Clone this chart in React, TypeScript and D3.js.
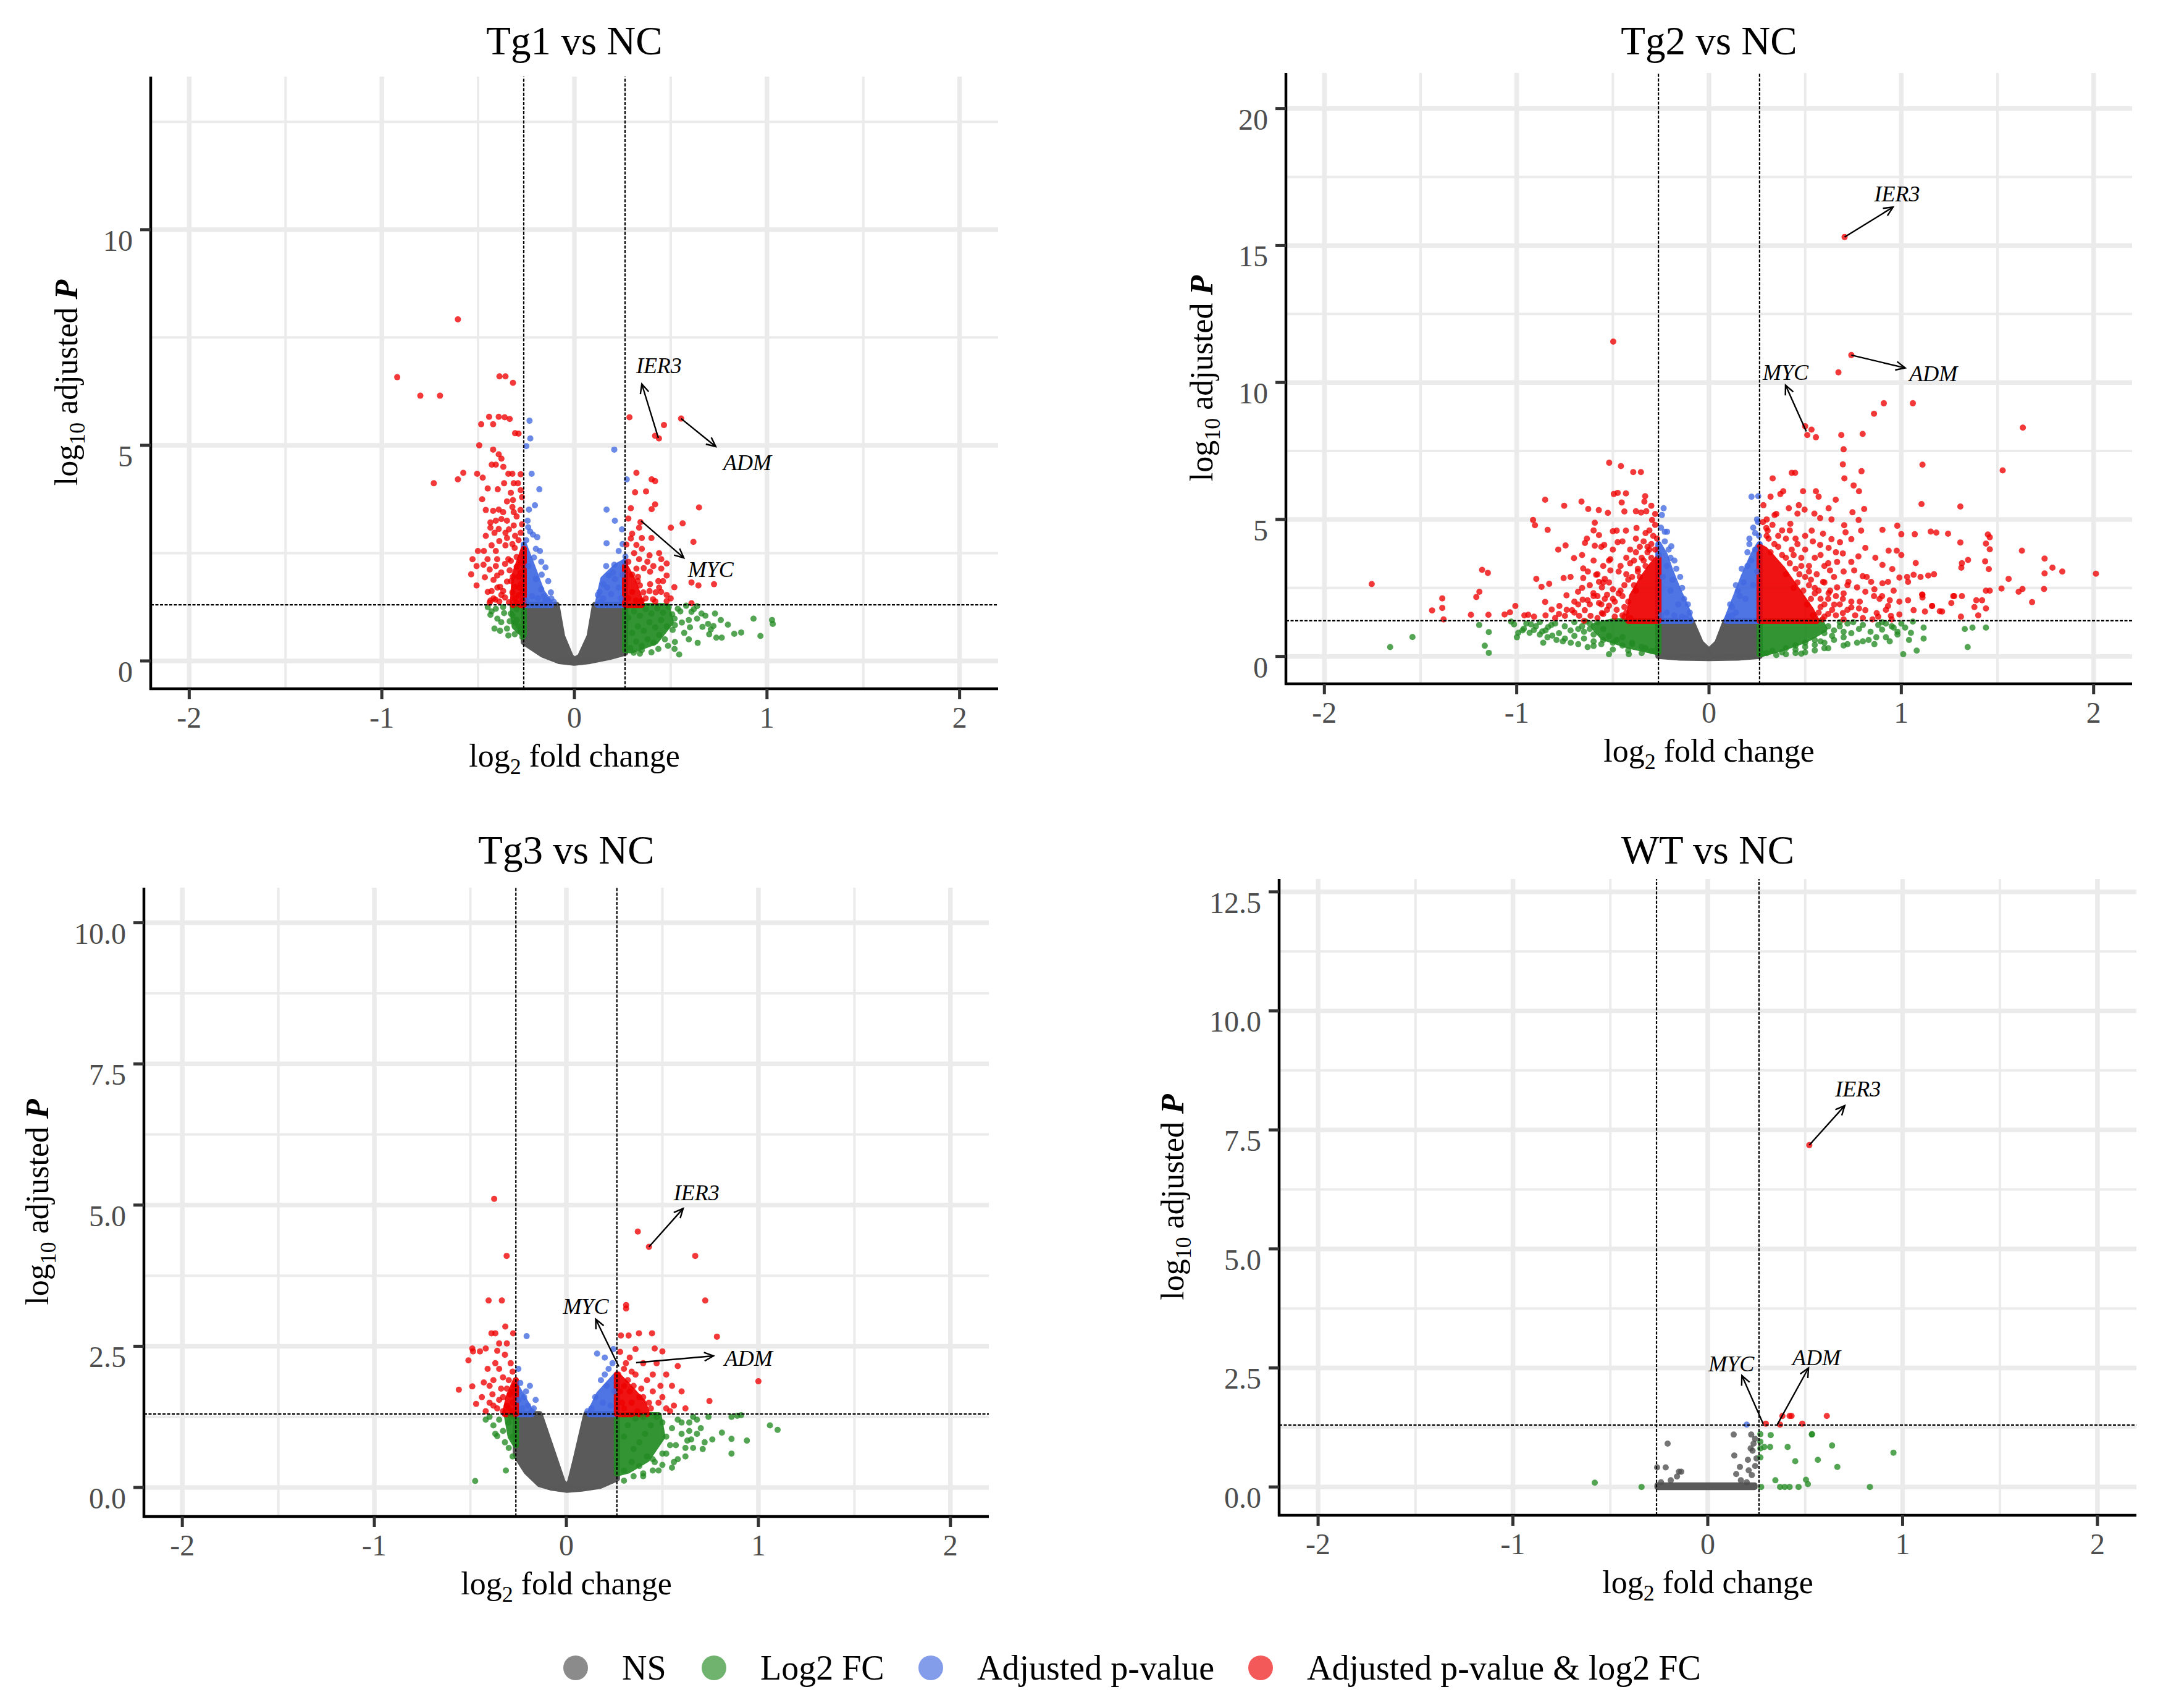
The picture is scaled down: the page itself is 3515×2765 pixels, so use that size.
import * as React from 'react';
import * as d3 from 'd3';

type Pt = [number, number];
type Annot = { gene: string; from: Pt; to: Pt; at: Pt };

const W = 3515;
const H = 2765;
const FONT = '"Liberation Serif", "Times New Roman", serif';

// shared axis values
const xLims: Pt = [-2.2, 2.2];
const xTicks = [-2, -1, 0, 1, 2];
const xMinor = [-1.5, -0.5, 0.5, 1.5];
const fcCut = 0.263; // log2(1.2)
const pCut = 1.301; // -log10(0.05)

const panelTitles = ['Tg1 vs NC', 'Tg2 vs NC', 'Tg3 vs NC', 'WT vs NC'];
const legendLabels = ['NS', 'Log2 FC', 'Adjusted p-value', 'Adjusted p-value & log2 FC'];
const groupColors = ['#4D4D4D', '#228B22', '#4169E1', '#EE0000'];

// ---------- Tg1 vs NC ----------
const tg1YLims: Pt = [-0.645, 13.55];
const tg1YTicks = [0, 5, 10];
const tg1YMinor = [2.5, 7.5, 12.5];
const tg1NSCore: Pt[] = [[-0.263, 1.3], [-0.093, 1.3], [-0.064, 0.57], [-0.02, 0.1], [0, 0.02], [0.03, 0.1], [0.079, 0.57], [0.107, 1.3], [0.263, 1.3], [0.263, 0.19], [0.18, 0.09], [0.08, 0.0], [0, -0.04], [-0.08, 0.0], [-0.165, 0.15], [-0.263, 0.44]];
const tg1GreenCore: Pt[][] = [
  [[-0.263, 1.27], [-0.32, 1.27], [-0.31, 0.8], [-0.263, 0.6]],
  [[0.263, 1.27], [0.48, 1.27], [0.5, 0.9], [0.42, 0.45], [0.3, 0.25], [0.263, 0.25]],
];
const tg1BlueCore: Pt[][] = [
  [[-0.263, 1.3], [-0.263, 2.7], [-0.22, 2.2], [-0.17, 1.6], [-0.12, 1.3]],
  [[0.12, 1.3], [0.15, 1.9], [0.22, 2.2], [0.263, 2.3], [0.263, 1.3]],
];
const tg1RedCore: Pt[][] = [
  [[-0.263, 1.3], [-0.32, 1.3], [-0.31, 2.0], [-0.263, 2.6]],
  [[0.263, 1.3], [0.263, 2.2], [0.3, 1.9], [0.35, 1.3]],
];
const tg1Red: Pt[] = [
  [-0.605, 7.92], [-0.92, 6.58], [-0.8, 6.15], [-0.698, 6.15], [-0.73, 4.12], [-0.389, 6.6], [-0.358, 6.6], [-0.319, 6.45],
  [-0.443, 5.66], [-0.393, 5.66], [-0.362, 5.65], [-0.336, 5.61], [-0.484, 5.49], [-0.422, 5.49], [-0.308, 5.28], [-0.29, 5.27],
  [-0.494, 5.0], [-0.422, 4.9], [-0.393, 4.79], [-0.379, 4.69], [-0.429, 4.55], [-0.408, 4.55], [-0.369, 4.5], [-0.505, 4.34],
  [-0.476, 4.25], [-0.577, 4.36], [-0.605, 4.21], [-0.343, 4.34], [-0.322, 4.34], [-0.279, 4.33], [-0.365, 4.12], [-0.315, 4.12],
  [-0.293, 4.12], [-0.398, 3.98], [-0.279, 3.96], [-0.479, 3.75], [-0.35, 3.7], [-0.319, 3.73], [-0.272, 3.8], [-0.422, 3.48],
  [-0.393, 3.51], [-0.322, 3.57], [-0.315, 3.45], [-0.436, 3.21], [-0.408, 3.25], [-0.379, 3.29], [-0.35, 3.25], [-0.436, 3.09],
  [-0.393, 3.06], [-0.315, 3.14], [-0.272, 3.17], [-0.415, 2.97], [-0.358, 2.97], [-0.279, 2.97], [-0.308, 2.9], [-0.501, 2.55],
  [-0.408, 2.55], [-0.358, 2.68], [-0.322, 2.71], [-0.529, 2.36], [-0.451, 2.36], [-0.401, 2.36], [-0.343, 2.36], [-0.3, 2.41],
  [-0.536, 2.01], [-0.508, 2.2], [-0.472, 2.23], [-0.408, 2.2], [-0.336, 2.1], [-0.508, 1.75], [-0.465, 1.94], [-0.401, 1.98],
  [-0.329, 1.85], [-0.436, 1.4], [-0.379, 1.53], [-0.322, 1.59], [-0.386, 1.72], [-0.279, 1.78], [-0.45, 1.6], [-0.42, 1.45],
  [-0.44, 1.35], [-0.41, 1.42], [-0.39, 1.38], [-0.36, 1.47], [-0.34, 1.36], [-0.31, 1.45], [-0.29, 1.52], [-0.43, 1.62],
  [-0.4, 1.7], [-0.37, 1.62], [-0.35, 1.84], [-0.31, 1.72], [-0.29, 1.95], [-0.42, 1.88], [-0.38, 2.05], [-0.36, 2.25],
  [-0.33, 2.32], [-0.3, 2.18], [-0.28, 2.28], [-0.44, 2.12], [-0.47, 2.55], [-0.43, 2.68], [-0.39, 2.78], [-0.35, 2.85],
  [-0.31, 2.62], [-0.29, 2.8], [-0.46, 2.9], [-0.34, 3.05], [-0.3, 3.35], [-0.28, 3.5], [-0.37, 3.45], [-0.46, 3.5],
  [-0.33, 3.9], [-0.45, 4.0], [-0.28, 2.05], [-0.32, 1.95], [-0.27, 1.6], [-0.3, 1.35], [-0.27, 1.4], [-0.285, 1.7],
  [0.286, 5.65], [0.465, 5.47], [0.554, 5.62], [0.419, 5.22], [0.439, 5.16], [0.322, 4.36], [0.401, 4.21], [0.419, 4.17],
  [0.315, 3.91], [0.372, 3.93], [0.419, 3.63], [0.401, 3.52], [0.647, 3.56], [0.293, 3.54], [0.343, 3.22], [0.336, 3.09],
  [0.501, 3.09], [0.562, 3.19], [0.618, 2.76], [0.293, 2.84], [0.322, 2.69], [0.336, 2.36], [0.379, 2.3], [0.451, 2.36],
  [0.479, 2.26], [0.322, 2.14], [0.393, 2.07], [0.451, 2.14], [0.479, 1.98], [0.329, 1.85], [0.393, 1.78], [0.436, 1.85],
  [0.519, 1.71], [0.608, 1.82], [0.644, 1.75], [0.725, 1.78], [0.358, 1.59], [0.422, 1.59], [0.479, 1.53], [0.479, 1.39],
  [0.608, 1.34], [0.408, 1.43], [0.44, 1.7], [0.35, 1.4],
  [0.28, 1.45], [0.3, 1.6], [0.32, 1.4], [0.34, 1.75], [0.37, 1.45], [0.39, 1.62], [0.42, 1.38], [0.45, 1.6], [0.3, 2.0],
  [0.33, 1.95], [0.36, 2.15], [0.41, 2.2], [0.28, 2.3], [0.31, 2.5], [0.35, 2.6], [0.39, 2.45], [0.44, 2.5], [0.46, 1.85],
  [0.5, 1.45], [0.27, 2.7], [0.3, 2.95], [0.28, 3.3], [0.35, 2.85], [0.4, 2.85],
];
const tg1Blue: Pt[] = [
  [-0.233, 5.57], [-0.229, 5.16], [-0.25, 4.98], [-0.222, 4.34], [-0.182, 3.98], [-0.236, 3.51], [-0.205, 3.61], [-0.243, 3.25],
  [-0.215, 2.93], [-0.193, 2.87], [-0.179, 2.55], [-0.172, 2.3], [-0.15, 2.17], [-0.136, 1.85], [-0.172, 1.66], [-0.122, 1.59],
  [-0.107, 1.37], [-0.15, 1.4], [-0.2, 2.6], [-0.24, 3.1],
  [-0.25, 1.4], [-0.22, 1.5], [-0.19, 1.45], [-0.16, 1.5], [-0.2, 1.9], [-0.24, 2.2], [-0.21, 2.4], [-0.17, 2.0], [-0.25, 2.8],
  [-0.23, 3.0], [-0.14, 1.4], [-0.12, 1.45],
  [0.207, 4.9], [0.272, 4.21], [0.167, 3.51], [0.21, 3.25], [0.247, 3.05], [0.167, 2.73], [0.25, 2.71], [0.265, 2.42],
  [0.207, 2.23], [0.165, 2.2], [0.179, 1.98], [0.15, 1.78], [0.122, 1.53], [0.136, 1.37], [0.23, 2.55],
  [0.13, 1.6], [0.15, 1.45], [0.17, 1.7], [0.19, 1.55], [0.21, 1.9], [0.23, 1.7], [0.25, 2.0], [0.24, 1.45], [0.2, 2.05],
  [0.26, 2.3],
];
const tg1Green: Pt[] = [
  [-0.436, 1.07], [-0.415, 0.75], [-0.343, 0.59], [-0.386, 0.7], [-0.408, 1.21], [-0.365, 1.11], [-0.322, 1.05], [-0.308, 0.89],
  [-0.279, 0.7], [-0.336, 0.92], [-0.45, 1.25], [-0.3, 1.2], [-0.33, 1.1], [-0.29, 0.8], [-0.35, 0.75], [-0.38, 0.9],
  [-0.31, 0.62], [-0.27, 0.55], [-0.4, 0.98], [-0.43, 1.15], [-0.37, 1.25], [-0.3, 0.95],
  [0.637, 1.27], [0.694, 0.86], [0.722, 0.81], [0.737, 0.54], [0.765, 0.54], [0.797, 0.84], [0.83, 0.63], [0.866, 0.66],
  [0.93, 0.98], [0.966, 0.58], [1.026, 0.95], [1.03, 0.86], [0.544, 0.15], [0.594, 0.5], [0.522, 0.44], [0.486, 0.35],
  [0.558, 0.89], [0.594, 0.95], [0.637, 0.98], [0.665, 0.79], [0.708, 0.73], [0.508, 1.08], [0.522, 0.83], [0.608, 1.14],
  [0.537, 1.21], [0.35, 0.25], [0.308, 0.19], [0.436, 0.28], [0.58, 1.28], [0.66, 1.1],
  [0.29, 0.3], [0.32, 0.45], [0.35, 0.35], [0.38, 0.5], [0.41, 0.42], [0.44, 0.6], [0.47, 0.5], [0.3, 0.65], [0.33, 0.8],
  [0.36, 0.7], [0.39, 0.9], [0.42, 0.78], [0.45, 0.95], [0.48, 0.8], [0.51, 0.72], [0.28, 1.0], [0.31, 1.15], [0.34, 1.05],
  [0.37, 1.2], [0.4, 1.1], [0.43, 1.22], [0.46, 1.12], [0.49, 1.25], [0.52, 0.98], [0.55, 1.15], [0.57, 0.65], [0.6, 0.78],
  [0.62, 1.2], [0.68, 1.05], [0.73, 1.1], [0.76, 0.95], [0.7, 0.62], [0.64, 0.42], [0.52, 0.28], [0.4, 0.2], [0.34, 0.17],
];
const tg1Annot: Annot[] = [
  { gene: 'IER3', from: [0.436, 5.17], to: [0.35, 6.42], at: [0.439, 6.84] },
  { gene: 'ADM', from: [0.554, 5.62], to: [0.734, 4.97], at: [0.898, 4.6] },
  { gene: 'MYC', from: [0.346, 3.25], to: [0.568, 2.39], at: [0.708, 2.12] },
];

// ---------- Tg2 vs NC ----------
const tg2YLims: Pt = [-1.0, 21.3];
const tg2YTicks = [0, 5, 10, 15, 20];
const tg2YMinor = [2.5, 7.5, 12.5, 17.5];
const tg2NSCore: Pt[] = [[-0.263, 1.3], [-0.093, 1.3], [-0.044, 0.5], [0, 0.2], [0.044, 0.5], [0.088, 1.3], [0.263, 1.3], [0.263, 0.02], [0.15, -0.04], [0, -0.06], [-0.15, -0.04], [-0.263, 0.02]];
const tg2GreenCore: Pt[][] = [
  [[-0.263, 1.28], [-0.5, 1.28], [-0.6, 1.1], [-0.55, 0.7], [-0.42, 0.4], [-0.263, 0.15]],
  [[0.263, 1.28], [0.58, 1.28], [0.6, 1.0], [0.5, 0.6], [0.38, 0.3], [0.263, 0.08]],
];
const tg2BlueCore: Pt[][] = [
  [[-0.263, 1.3], [-0.263, 4.1], [-0.23, 3.7], [-0.2, 3.1], [-0.16, 2.4], [-0.12, 1.8], [-0.095, 1.3]],
  [[0.09, 1.3], [0.13, 2.0], [0.18, 2.9], [0.23, 3.7], [0.263, 4.1], [0.263, 1.3]],
];
const tg2RedCore: Pt[][] = [
  [[-0.263, 1.3], [-0.263, 3.6], [-0.3, 3.3], [-0.35, 2.8], [-0.4, 2.2], [-0.42, 1.3]],
  [[0.263, 1.3], [0.263, 4.0], [0.29, 3.9], [0.33, 3.6], [0.38, 3.2], [0.43, 2.7], [0.48, 2.2], [0.53, 1.7], [0.56, 1.3]],
];
const tg2Red: Pt[] = [
  [-0.498, 11.49], [-1.754, 2.64], [-1.44, 1.68], [-1.387, 2.12], [-1.387, 1.77], [-1.38, 1.35], [-1.238, 1.52], [-1.21, 2.17],
  [-1.194, 2.36], [-1.18, 3.16], [-1.15, 3.05], [-1.147, 1.52], [-1.063, 1.53], [-1.035, 1.61], [-1.007, 1.84], [-0.96, 1.5],
  [-0.94, 1.52], [-0.91, 1.45], [-0.915, 4.98], [-0.905, 4.79], [-0.852, 5.72], [-0.839, 4.62], [-0.753, 5.5], [-0.663, 5.65],
  [-0.628, 5.38], [-0.573, 5.34], [-0.526, 5.24], [-0.519, 7.07], [-0.458, 6.95], [-0.394, 6.73], [-0.354, 6.73], [-0.495, 5.93],
  [-0.475, 5.97], [-0.432, 5.95], [-0.332, 5.85], [-0.336, 5.65], [-0.454, 5.62], [-0.44, 5.29], [-0.38, 5.3], [-0.353, 5.25],
  [-0.326, 5.3], [-0.296, 4.98], [-0.594, 4.88], [-0.572, 4.43], [-0.5, 4.57], [-0.48, 4.59], [-0.377, 4.69], [-0.784, 3.9],
  [-0.746, 4.05], [-0.702, 3.59], [-0.635, 4.3], [-0.645, 4.14], [-0.898, 2.83], [-0.831, 2.65], [-0.871, 2.54], [-0.756, 2.86],
  [-0.852, 1.99], [-0.818, 1.71], [-0.778, 1.84], [-0.741, 2.23], [-0.654, 3.21], [-0.654, 2.86], [-0.681, 2.36], [-0.657, 2.07],
  [-0.587, 2.98], [-0.557, 2.52], [-0.594, 4.04], [-0.545, 4.07], [-0.475, 4.17], [-0.432, 4.59], [-0.513, 3.55], [-0.513, 3.14],
  [-0.542, 2.83], [-0.572, 2.72], [-0.601, 2.31], [-0.631, 2.05], [-0.572, 1.95], [-0.542, 2.1], [-0.646, 1.69], [-0.616, 1.48],
  [-0.557, 1.58], [-0.675, 1.48], [-0.712, 1.69], [-0.749, 1.48], [-0.62, 1.9], [-0.58, 2.2], [-0.55, 3.3], [-0.53, 1.7],
  [-0.52, 2.7], [-0.5, 3.9], [-0.5, 2.1], [-0.49, 1.45], [-0.47, 3.1], [-0.46, 2.4], [-0.45, 4.2], [-0.44, 1.8], [-0.43, 3.6],
  [-0.42, 2.8], [-0.7, 1.6], [-0.72, 2.9], [-0.8, 1.4], [-0.85, 1.5], [-0.66, 3.7], [-0.6, 4.6], [-0.56, 4.0], [-0.62, 2.6],
  [-0.41, 3.9], [-0.38, 4.3], [-0.33, 4.5], [-0.29, 4.4], [-0.36, 4.0], [-0.39, 3.5],
  [-0.3, 4.1], [-0.32, 3.8], [-0.35, 3.6], [-0.37, 3.2], [-0.4, 2.9], [-0.44, 2.6], [-0.47, 2.3], [-0.49, 2.0], [-0.52, 1.85],
  [-0.55, 1.55], [-0.58, 1.4], [-0.45, 1.5], [-0.48, 1.7], [-0.5, 2.45], [-0.53, 2.25], [-0.55, 2.7], [-0.46, 3.3], [-0.43, 3.0],
  [-0.41, 3.4], [-0.38, 3.8], [-0.34, 4.2], [-0.31, 4.6], [-0.28, 4.8], [-0.28, 5.2], [-0.3, 5.5], [-0.52, 3.5], [-0.58, 3.0],
  [-0.6, 3.5], [-0.63, 3.1], [-0.66, 2.5], [-0.7, 2.0], [-0.74, 1.7], [-0.78, 1.55], [-0.68, 1.9], [-0.65, 1.3], [-0.6, 2.2],
  [-0.56, 1.9],
  [-0.28, 3.9], [-0.3, 3.6], [-0.33, 3.3], [-0.36, 2.9], [-0.39, 2.6], [-0.42, 2.0], [-0.43, 1.6], [-0.41, 1.4], [-0.38, 2.4],
  [-0.34, 3.5], [-0.31, 3.9], [-0.27, 4.3], [-0.45, 2.2], [-0.44, 1.45], [-0.37, 3.1], [-0.32, 4.0],
  [0.705, 15.31], [0.74, 11.0], [0.673, 10.37], [0.533, 8.28], [0.511, 8.08], [0.556, 8.0], [0.5, 8.4], [0.909, 9.24],
  [0.858, 8.86], [1.06, 9.24], [1.632, 8.35], [0.688, 8.08], [0.799, 8.12], [0.7, 7.56], [0.696, 7.01], [0.793, 6.76],
  [0.704, 6.5], [1.11, 7.0], [1.527, 6.79], [0.331, 6.5], [0.43, 6.7], [0.448, 6.7], [0.752, 6.24], [0.78, 6.03],
  [1.105, 5.56], [1.307, 5.47], [0.807, 5.38], [0.746, 5.26], [0.778, 4.98], [0.703, 4.79], [0.902, 4.62], [0.979, 4.77],
  [1.153, 4.56], [1.182, 4.52], [1.243, 4.48], [1.45, 4.45], [1.46, 4.35], [1.44, 4.12], [1.46, 3.91], [1.307, 4.16],
  [1.627, 3.86], [1.745, 3.57], [1.786, 3.24], [1.837, 3.1], [2.012, 3.02], [1.745, 3.03], [1.742, 2.46], [1.68, 1.98],
  [1.558, 2.83], [1.521, 2.48], [1.63, 2.46], [1.61, 2.36], [1.44, 2.4], [1.46, 2.4], [1.347, 3.52], [1.315, 3.4],
  [1.312, 3.24], [1.436, 3.47], [1.455, 3.19], [1.38, 1.8], [1.39, 2.05], [1.44, 1.75], [1.42, 2.05], [1.4, 1.5],
  [1.31, 1.45], [1.275, 2.2], [1.315, 2.2], [1.26, 1.95], [1.2, 1.65], [1.16, 1.84], [1.11, 2.25], [1.11, 2.15],
  [1.0, 3.7], [1.075, 3.41], [1.064, 2.98], [0.976, 3.86], [0.934, 3.86], [1.07, 4.46], [1.0, 4.46], [1.14, 2.95],
  [1.17, 3.0], [1.1, 2.9], [1.03, 2.9], [0.865, 3.6], [0.902, 3.34], [0.953, 3.19], [0.99, 2.88], [1.035, 2.72],
  [0.931, 2.72], [0.902, 2.67], [0.858, 2.2], [0.887, 2.1], [0.931, 1.84], [0.99, 2.0], [1.035, 2.05], [1.064, 1.69],
  [1.108, 2.26], [1.123, 1.64], [1.16, 1.84], [1.212, 1.64], [1.27, 2.2], [0.99, 1.53], [0.946, 1.48], [0.872, 1.58],
  [0.813, 1.69], [0.784, 2.0], [0.813, 2.36], [0.843, 2.72], [0.799, 2.93], [0.755, 3.14], [0.74, 3.45], [0.777, 3.65],
  [0.813, 3.96], [0.74, 4.28], [0.791, 4.59], [0.71, 4.53], [0.681, 4.17], [0.696, 3.76], [0.666, 3.45], [0.629, 3.14],
  [0.593, 2.72], [0.725, 2.72], [0.77, 2.52], [0.696, 2.1], [0.74, 1.79], [0.696, 1.58], [0.651, 1.89], [0.622, 2.31],
  [0.666, 2.52], [0.637, 5.0], [0.659, 5.72], [0.622, 5.41], [0.57, 5.83], [0.556, 6.03], [0.489, 6.03], [0.371, 5.93],
  [0.386, 6.03], [0.467, 5.52], [0.497, 5.36], [0.46, 5.21], [0.548, 5.21], [0.578, 5.05], [0.415, 5.41], [0.341, 5.16],
  [0.283, 5.52], [0.32, 5.83], [0.298, 4.69], [0.305, 4.59], [0.423, 4.84], [0.534, 4.59], [0.593, 4.48], [0.637, 4.28],
  [0.622, 3.96], [0.578, 4.07], [0.55, 3.6], [0.5, 3.9], [0.6, 3.3], [0.45, 4.3], [0.38, 4.6], [0.52, 3.1],
  [0.3, 4.4], [0.33, 4.8], [0.36, 4.4], [0.4, 4.3], [0.43, 3.9], [0.48, 3.6], [0.52, 3.3], [0.56, 3.0], [0.6, 2.7],
  [0.63, 2.4], [0.66, 2.2], [0.68, 1.9], [0.72, 1.7], [0.76, 1.5], [0.8, 1.4], [0.85, 1.35], [0.62, 1.55], [0.58, 1.8],
  [0.55, 2.3], [0.65, 2.9], [0.7, 2.3], [0.74, 2.0], [0.78, 1.75], [0.82, 2.9], [0.86, 2.45], [0.9, 2.2], [0.94, 2.05],
  [0.96, 2.4], [0.92, 1.7], [0.88, 1.45], [0.95, 1.35], [0.3, 5.0], [0.35, 5.2], [0.28, 4.9], [0.42, 4.6], [0.46, 4.1],
  [0.5, 4.4], [0.54, 4.2], [0.58, 3.7], [0.62, 3.4], [0.66, 3.8], [0.7, 3.1], [0.72, 2.6],
  [0.45, 3.2], [0.5, 2.9], [0.55, 2.5], [0.58, 2.1], [0.6, 1.9], [0.64, 1.7], [0.52, 2.6], [0.47, 3.0], [0.42, 3.4],
  [0.38, 3.7], [0.34, 4.1], [0.31, 4.3], [0.4, 3.0], [0.44, 2.5], [0.49, 2.4], [0.53, 2.1], [0.57, 1.6], [0.6, 1.45],
  [0.66, 1.5], [0.7, 1.35], [0.62, 2.1], [0.57, 2.4], [0.53, 2.8], [0.48, 3.3], [0.44, 3.7], [0.36, 4.0], [0.32, 3.8],
  [0.4, 3.6], [0.46, 2.7], [0.51, 1.9], [0.54, 1.5], [0.59, 1.35],
];
const tg2Blue: Pt[] = [
  [-0.236, 5.41], [-0.245, 5.16], [-0.23, 4.55], [-0.218, 4.55], [-0.196, 4.02], [-0.18, 3.5], [-0.15, 2.9], [-0.14, 2.5],
  [-0.11, 1.9], [-0.1, 1.6], [-0.21, 3.9], [-0.17, 3.2], [-0.13, 2.1], [-0.25, 4.7],
  [-0.25, 1.5], [-0.22, 1.6], [-0.18, 1.5], [-0.14, 1.45], [-0.2, 2.4], [-0.24, 2.9], [-0.22, 3.3], [-0.26, 3.7], [-0.12, 1.4],
  [-0.16, 1.9], [-0.19, 2.8], [-0.23, 4.2], [-0.2, 3.6],
  [0.221, 5.83], [0.256, 5.85], [0.25, 5.0], [0.24, 4.5], [0.2, 3.8], [0.17, 3.2], [0.14, 2.6], [0.11, 1.9], [0.21, 4.1],
  [0.23, 4.7], [0.16, 2.2], [0.12, 1.5], [0.255, 4.9],
  [0.1, 1.45], [0.12, 1.8], [0.15, 2.4], [0.18, 2.7], [0.2, 3.3], [0.22, 3.5], [0.24, 3.9], [0.26, 4.4], [0.19, 2.1], [0.23, 2.6],
  [0.25, 3.1], [0.14, 1.6], [0.21, 4.3],
];
const tg2Green: Pt[] = [
  [-1.658, 0.34], [-1.542, 0.71], [-1.195, 1.15], [-1.145, 0.89], [-1.166, 0.39], [-1.145, 0.13], [-1.014, 1.17], [-0.992, 0.86],
  [-0.999, 0.7], [-0.963, 1.01], [-0.926, 1.17], [-0.933, 0.86], [-0.911, 0.96], [-0.862, 0.5], [-0.867, 0.91], [-0.837, 1.07],
  [-0.815, 0.76], [-0.793, 0.6], [-1.029, 1.27], [-0.52, 0.08], [-0.417, 0.08], [-0.631, 0.34], [-0.719, 0.5], [-0.749, 0.65],
  [-0.88, 1.25], [-0.8, 1.2],
  [-0.3, 0.2], [-0.35, 0.35], [-0.4, 0.5], [-0.45, 0.4], [-0.5, 0.5], [-0.55, 0.6], [-0.6, 0.55], [-0.65, 0.65], [-0.7, 0.75],
  [-0.72, 0.95], [-0.75, 1.1], [-0.7, 1.25], [-0.66, 1.1], [-0.62, 1.2], [-0.58, 1.25], [-0.78, 0.85], [-0.82, 1.15],
  [-0.85, 0.95], [-0.88, 0.8], [-0.9, 1.1], [-0.95, 1.2], [-0.97, 0.95], [-0.84, 0.7], [-0.76, 0.55], [-0.68, 0.45],
  [-0.6, 0.38], [-0.5, 0.25], [-0.42, 0.22], [-0.35, 0.12],
  [-0.55, 1.0], [-0.6, 0.8], [-0.62, 1.0], [-0.65, 0.9], [-0.52, 0.75], [-0.48, 0.6], [-0.45, 0.7], [-0.4, 0.45],
  [-0.33, 0.3], [-0.28, 0.2], [-0.56, 0.45], [-0.64, 1.27], [-0.68, 1.0],
  [1.01, 0.08], [1.08, 0.21], [1.116, 0.65], [1.116, 1.05], [1.05, 0.86], [0.94, 0.55], [1.33, 1.0], [1.37, 1.05], [1.44, 1.05],
  [1.345, 0.34], [0.9, 1.25], [0.95, 1.1], [0.98, 0.9], [0.87, 0.7], [0.8, 0.55], [0.72, 0.45], [0.6, 0.3], [0.5, 0.15],
  [0.9, 0.98], [1.0, 1.2], [1.06, 1.27], [0.35, 0.05], [0.45, 0.12],
  [0.3, 0.12], [0.38, 0.15], [0.45, 0.25], [0.5, 0.35], [0.55, 0.42], [0.6, 0.5], [0.65, 0.6], [0.7, 0.7], [0.74, 0.85],
  [0.78, 1.0], [0.72, 1.2], [0.68, 1.1], [0.75, 1.25], [0.8, 1.15], [0.84, 0.9], [0.88, 1.15], [0.92, 1.2], [0.96, 1.05],
  [0.83, 0.6], [0.77, 0.5], [0.7, 0.4], [0.62, 0.3], [0.55, 0.22], [0.48, 0.1], [0.4, 0.08], [0.86, 0.45], [0.92, 0.7],
  [0.98, 0.8], [1.02, 1.05], [1.04, 0.6],
  [0.6, 0.85], [0.62, 1.1], [0.65, 0.95], [0.55, 0.6], [0.5, 0.5], [0.45, 0.4], [0.4, 0.3], [0.33, 0.2], [0.68, 1.25],
  [0.64, 0.75], [0.58, 0.55], [0.7, 0.9], [0.28, 0.1],
];
const tg2Annot: Annot[] = [
  { gene: 'IER3', from: [0.705, 15.31], to: [0.957, 16.4], at: [0.978, 16.87] },
  { gene: 'ADM', from: [0.74, 11.0], to: [1.02, 10.53], at: [1.167, 10.33] },
  { gene: 'MYC', from: [0.506, 8.21], to: [0.398, 9.9], at: [0.398, 10.36] },
];

// ---------- Tg3 vs NC ----------
const tg3YLims: Pt = [-0.514, 10.62];
const tg3YTicks = [0, 2.5, 5, 7.5, 10];
const tg3YMinor = [1.25, 3.75, 6.25, 8.75];
const tg3NSCore: Pt[] = [[-0.263, 1.3], [-0.14, 1.3], [-0.061, 0.51], [-0.02, 0.1], [0, 0.0], [0.02, 0.1], [0.05, 0.51], [0.104, 1.3], [0.263, 1.3], [0.263, 0.16], [0.176, 0.03], [0.08, -0.02], [0, -0.04], [-0.08, 0.0], [-0.14, 0.06], [-0.207, 0.28], [-0.263, 0.58]];
const tg3GreenCore: Pt[][] = [
  [[-0.263, 1.28], [-0.31, 1.28], [-0.29, 0.9], [-0.263, 0.75]],
  [[0.263, 1.28], [0.48, 1.28], [0.5, 0.9], [0.42, 0.5], [0.32, 0.3], [0.263, 0.25]],
];
const tg3BlueCore: Pt[][] = [
  [[-0.263, 1.3], [-0.263, 1.8], [-0.22, 1.55], [-0.18, 1.3]],
  [[0.12, 1.3], [0.17, 1.65], [0.263, 2.0], [0.263, 1.3]],
];
const tg3RedCore: Pt[][] = [
  [[-0.263, 1.3], [-0.263, 1.9], [-0.3, 1.6], [-0.32, 1.3]],
  [[0.263, 1.3], [0.263, 2.0], [0.32, 1.8], [0.4, 1.5], [0.42, 1.3]],
];
const tg3Red: Pt[] = [
  [-0.376, 5.11], [-0.311, 4.1], [-0.405, 3.31], [-0.336, 3.31], [-0.318, 2.85], [-0.39, 2.73], [-0.37, 2.73], [-0.277, 2.73],
  [-0.49, 2.46], [-0.486, 2.41], [-0.45, 2.41], [-0.42, 2.46], [-0.51, 2.25], [-0.36, 2.42], [-0.56, 1.73], [-0.49, 1.79],
  [-0.43, 1.86], [-0.47, 1.48], [-0.4, 1.5], [-0.38, 1.9], [-0.35, 2.1], [-0.33, 1.6], [-0.3, 1.9], [-0.29, 2.2], [-0.28, 1.5],
  [-0.32, 2.35], [-0.36, 1.4], [-0.42, 1.35], [-0.3, 1.4], [-0.27, 1.8], [-0.34, 1.75], [-0.44, 1.6], [-0.31, 2.55],
  [-0.295, 1.65], [-0.385, 1.65], [-0.35, 2.55], [-0.41, 2.1],
  [-0.28, 1.35], [-0.31, 1.45], [-0.33, 1.35], [-0.35, 1.55], [-0.38, 1.45], [-0.28, 1.7], [-0.31, 1.75], [-0.33, 1.95],
  [-0.37, 2.2], [-0.4, 1.8], [-0.28, 2.05],
  [0.372, 4.53], [0.43, 4.26], [0.671, 4.1], [0.723, 3.31], [0.311, 3.23], [0.311, 3.17], [0.784, 2.67], [0.284, 2.69],
  [0.324, 2.69], [0.378, 2.73], [0.446, 2.73], [0.46, 2.46], [0.5, 2.41], [0.58, 2.15], [1.0, 1.88], [0.745, 1.53],
  [0.62, 1.4], [0.28, 2.4], [0.3, 2.1], [0.33, 2.3], [0.36, 2.0], [0.4, 2.2], [0.42, 1.9], [0.45, 1.7], [0.48, 1.5],
  [0.52, 2.0], [0.55, 1.8], [0.5, 1.6], [0.38, 1.6], [0.33, 1.7], [0.29, 1.5], [0.3, 1.8], [0.44, 1.4], [0.56, 1.45],
  [0.6, 1.7], [0.54, 1.35], [0.47, 2.2], [0.36, 2.45],
  [0.3, 1.4], [0.34, 1.5], [0.37, 1.35], [0.4, 1.6], [0.43, 1.5], [0.28, 1.7], [0.32, 1.9], [0.35, 1.8], [0.39, 1.75],
  [0.27, 2.0], [0.31, 2.2], [0.34, 2.05], [0.45, 2.0], [0.49, 1.8], [0.52, 1.4],
];
const tg3Blue: Pt[] = [
  [-0.207, 2.68], [-0.25, 2.1], [-0.24, 1.85], [-0.22, 1.6], [-0.2, 1.45], [-0.18, 1.35], [-0.16, 1.55], [-0.17, 1.4],
  [-0.23, 1.4], [-0.21, 1.7], [-0.19, 1.8], [-0.25, 1.55],
  [0.16, 2.37], [0.2, 2.3], [0.22, 2.1], [0.24, 2.2], [0.18, 1.9], [0.21, 1.8], [0.15, 1.6], [0.13, 1.4], [0.11, 1.35],
  [0.25, 1.7], [0.19, 1.5], [0.23, 1.45], [0.2, 2.0], [0.245, 2.45],
];
const tg3Green: Pt[] = [
  [-0.475, 0.115], [-0.315, 0.3], [-0.36, 0.91], [-0.4, 1.25], [-0.38, 1.1], [-0.35, 1.2], [-0.33, 1.0], [-0.3, 1.15],
  [-0.28, 0.9], [-0.3, 0.7], [-0.28, 0.55], [-0.32, 0.8], [-0.37, 0.95], [-0.42, 1.2], [-0.29, 1.25],
  [1.1, 1.02], [1.06, 1.1], [0.94, 0.83], [0.86, 0.6], [0.86, 0.86], [0.81, 0.97], [0.76, 0.85], [0.71, 0.68], [0.89, 1.27],
  [0.86, 1.25], [0.91, 1.28], [0.66, 0.7], [0.64, 1.0], [0.62, 0.55], [0.6, 1.15], [0.68, 1.2], [0.7, 1.05], [0.58, 0.5],
  [0.55, 0.35], [0.45, 0.3], [0.5, 0.4], [0.4, 0.25], [0.35, 0.2], [0.3, 0.12], [0.63, 0.83], [0.74, 1.25], [0.66, 1.25],
  [0.57, 0.75], [0.52, 0.6], [0.45, 0.5],
  [0.3, 0.3], [0.34, 0.45], [0.38, 0.38], [0.42, 0.55], [0.46, 0.45], [0.5, 0.6], [0.54, 0.75], [0.52, 0.9], [0.55, 1.05],
  [0.58, 1.2], [0.5, 1.15], [0.47, 1.25], [0.44, 1.1], [0.41, 0.95], [0.38, 0.8], [0.35, 0.68], [0.3, 0.9], [0.32, 1.1],
  [0.36, 1.22], [0.4, 1.25], [0.6, 0.95], [0.62, 0.7], [0.56, 0.45], [0.48, 0.3], [0.4, 0.2], [0.65, 0.85], [0.68, 0.95],
  [0.72, 0.8], [0.64, 1.15],
];
const tg3Annot: Annot[] = [
  { gene: 'IER3', from: [0.43, 4.26], to: [0.608, 4.94], at: [0.678, 5.22] },
  { gene: 'MYC', from: [0.273, 2.14], to: [0.153, 2.98], at: [0.101, 3.21] },
  { gene: 'ADM', from: [0.363, 2.21], to: [0.766, 2.33], at: [0.948, 2.29] },
];

// ---------- WT vs NC ----------
const wtYLims: Pt = [-0.595, 12.77];
const wtYTicks = [0, 2.5, 5, 7.5, 10, 12.5];
const wtYMinor = [1.25, 3.75, 6.25, 8.75, 11.25];
const wtNSCore: Pt[] = [[-0.258, 0.0], [0.24, 0.0], [0.24, 0.03], [-0.258, 0.03]];
const wtGrey: Pt[] = [
  [-0.206, 0.91], [-0.26, 0.41], [-0.216, 0.41], [-0.148, 0.32], [-0.136, 0.32], [-0.158, 0.22], [-0.19, 0.14], [0.133, 1.1],
  [0.223, 1.1], [0.136, 0.66], [0.22, 0.81], [0.23, 0.76], [0.206, 0.57], [0.165, 0.42], [0.243, 0.44], [0.146, 0.27],
  [0.226, 0.25], [0.17, 0.14], [0.243, 1.01], [0.235, 0.91], [0.2, 0.1], [0.25, 0.6], [-0.24, 0.1], [0.21, 0.35],
];
const wtRed: Pt[] = [[0.521, 7.18], [0.298, 1.33], [0.371, 1.31], [0.383, 1.49], [0.42, 1.49], [0.43, 1.49], [0.485, 1.33], [0.611, 1.49]];
const wtBlue: Pt[] = [[0.2, 1.31]];
const wtGreen: Pt[] = [
  [-0.58, 0.09], [-0.34, 0.0], [0.27, 1.11], [0.323, 1.09], [0.29, 0.84], [0.32, 0.84], [0.27, 0.81], [0.27, 0.62],
  [0.41, 0.84], [0.534, 1.1], [0.638, 0.87], [0.953, 0.72], [0.449, 0.54], [0.565, 0.57], [0.665, 0.42], [0.347, 0.14],
  [0.504, 0.15], [0.514, 0.06], [0.274, 0.0], [0.371, 0.0], [0.395, 0.0], [0.42, 0.0], [0.466, 0.0], [0.832, 0.0],
  [0.27, 0.95], [0.535, 1.11],
];
const wtAnnot: Annot[] = [
  { gene: 'IER3', from: [0.521, 7.18], to: [0.703, 8.01], at: [0.771, 8.36] },
  { gene: 'MYC', from: [0.284, 1.33], to: [0.175, 2.34], at: [0.121, 2.58] },
  { gene: 'ADM', from: [0.357, 1.31], to: [0.517, 2.5], at: [0.558, 2.72] },
];

type PanelCfg = {
  title: string;
  xPx: Pt;
  yPx: Pt;
  titleY: number;
  yLims: Pt;
  yTicks: number[];
  yMinor: number[];
  decimals: number;
  cores: Pt[][][]; // per group: NS, FC, P, both
  points: Pt[][];
  annot: Annot[];
};

const panels: PanelCfg[] = [
  { title: panelTitles[0], xPx: [244, 1616], yPx: [1115, 124], titleY: 88, yLims: tg1YLims, yTicks: tg1YTicks, yMinor: tg1YMinor, decimals: 0,
    cores: [[tg1NSCore], tg1GreenCore, tg1BlueCore, tg1RedCore], points: [[], tg1Green, tg1Blue, tg1Red], annot: tg1Annot },
  { title: panelTitles[1], xPx: [2082, 3452], yPx: [1107, 118], titleY: 88, yLims: tg2YLims, yTicks: tg2YTicks, yMinor: tg2YMinor, decimals: 0,
    cores: [[tg2NSCore], tg2GreenCore, tg2BlueCore, tg2RedCore], points: [[], tg2Green, tg2Blue, tg2Red], annot: tg2Annot },
  { title: panelTitles[2], xPx: [233, 1601], yPx: [2455, 1437], titleY: 1398, yLims: tg3YLims, yTicks: tg3YTicks, yMinor: tg3YMinor, decimals: 1,
    cores: [[tg3NSCore], tg3GreenCore, tg3BlueCore, tg3RedCore], points: [[], tg3Green, tg3Blue, tg3Red], annot: tg3Annot },
  { title: panelTitles[3], xPx: [2071, 3459], yPx: [2453, 1423], titleY: 1398, yLims: wtYLims, yTicks: wtYTicks, yMinor: wtYMinor, decimals: 1,
    cores: [[wtNSCore], [], [], []], points: [wtGrey, wtGreen, wtBlue, wtRed], annot: wtAnnot },
];

const R = 5;
const TICK_FS = 48;
const AXIS_FS = 52;

function textWidth(s: string, fs: number) {
  let w = 0;
  for (const c of s) w += c === '.' ? 0.25 : c === '-' ? 0.333 : 0.5;
  return w * fs;
}

function Panel({ p }: { p: PanelCfg }) {
  const x = d3.scaleLinear().domain(xLims).range(p.xPx);
  const y = d3.scaleLinear().domain(p.yLims).range(p.yPx);
  const [x0, x1] = p.xPx;
  const [yb, yt] = p.yPx;
  const poly = d3.line<Pt>().x(d => x(d[0])).y(d => y(d[1])).curve(d3.curveLinearClosed);
  const fmt = p.decimals ? d3.format('.1f') : (v: number) => String(v);
  const labelW = d3.max(p.yTicks, t => textWidth(fmt(t), TICK_FS)) ?? 50;
  const titleX = x0 - 29 - labelW - 42;
  const midY = (yb + yt) / 2;
  const midX = (x0 + x1) / 2;

  return (
    <g>
      {/* grid */}
      {p.yMinor.map(t => (
        <line key={'ym' + t} x1={x0} x2={x1} y1={y(t)} y2={y(t)} stroke="#EBEBEB" strokeWidth={4} />
      ))}
      {xMinor.map(t => (
        <line key={'xm' + t} x1={x(t)} x2={x(t)} y1={yb} y2={yt} stroke="#EBEBEB" strokeWidth={4} />
      ))}
      {p.yTicks.map(t => (
        <line key={'yg' + t} x1={x0} x2={x1} y1={y(t)} y2={y(t)} stroke="#EBEBEB" strokeWidth={7.5} />
      ))}
      {xTicks.map(t => (
        <line key={'xg' + t} x1={x(t)} x2={x(t)} y1={yb} y2={yt} stroke="#EBEBEB" strokeWidth={7.5} />
      ))}

      {/* dense cores */}
      {p.cores.map((group, gi) =>
        group.map((c, ci) => (
          <path key={`c${gi}-${ci}`} d={poly(c) ?? ''} fill={groupColors[gi]} stroke={groupColors[gi]}
            strokeWidth={2 * R} strokeLinejoin="round" strokeLinecap="round" opacity={0.92} />
        ))
      )}
      {/* points */}
      {p.points.map((group, gi) =>
        group.map((d, i) => (
          <circle key={`p${gi}-${i}`} cx={x(d[0])} cy={y(d[1])} r={R} fill={groupColors[gi]} opacity={0.78} />
        ))
      )}

      {/* cutoff lines */}
      {[-fcCut, fcCut].map(v => (
        <line key={'v' + v} x1={x(v)} x2={x(v)} y1={yb} y2={yt} stroke="#000" strokeWidth={2.2} strokeDasharray="5 2.5" />
      ))}
      <line x1={x0} x2={x1} y1={y(pCut)} y2={y(pCut)} stroke="#000" strokeWidth={2.2} strokeDasharray="5 2.5" />

      {/* annotations */}
      {p.annot.map(a => (
        <g key={a.gene}>
          <line x1={x(a.from[0])} y1={y(a.from[1])} x2={x(a.to[0])} y2={y(a.to[1])} stroke="#000"
            strokeWidth={2.4} markerEnd="url(#arrowHead)" />
          <text x={x(a.at[0])} y={y(a.at[1])} textAnchor="middle" dominantBaseline="central"
            fontFamily={FONT} fontStyle="italic" fontSize={36} fill="#000">{a.gene}</text>
        </g>
      ))}

      {/* axes */}
      <line x1={x0} x2={x0} y1={yb + 2} y2={yt} stroke="#000" strokeWidth={4.5} />
      <line x1={x0 - 2} x2={x1} y1={yb} y2={yb} stroke="#000" strokeWidth={4.5} />
      {p.yTicks.map(t => (
        <g key={'yt' + t}>
          <line x1={x0 - 17} x2={x0} y1={y(t)} y2={y(t)} stroke="#333" strokeWidth={5} />
          <text x={x0 - 29} y={y(t) + 34} textAnchor="end" fontFamily={FONT} fontSize={TICK_FS} fill="#4D4D4D">{fmt(t)}</text>
        </g>
      ))}
      {xTicks.map(t => (
        <g key={'xt' + t}>
          <line x1={x(t)} x2={x(t)} y1={yb} y2={yb + 17} stroke="#333" strokeWidth={5} />
          <text x={x(t)} y={yb + 63} textAnchor="middle" fontFamily={FONT} fontSize={TICK_FS} fill="#4D4D4D">{String(t)}</text>
        </g>
      ))}

      {/* titles */}
      <text x={midX} y={p.titleY} textAnchor="middle" fontFamily={FONT} fontSize={65} fill="#000">{p.title}</text>
      <text x={midX} y={yb + 126} textAnchor="middle" fontFamily={FONT} fontSize={AXIS_FS} fill="#000">
        log<tspan fontSize={36} dy={12}>2</tspan><tspan dy={-12}> fold change</tspan>
      </text>
      <text transform={`translate(${titleX},${midY}) rotate(-90)`} textAnchor="middle" fontFamily={FONT} fontSize={AXIS_FS} fill="#000">
        log<tspan fontSize={36} dy={12}>10</tspan><tspan dy={-12}> adjusted </tspan>
        <tspan fontWeight="bold" fontStyle="italic">P</tspan>
      </text>
    </g>
  );
}

const legendX = [932, 1156, 1507, 2041];
const legendY = 2700;

export default function App() {
  return (
    <svg width={W} height={H} viewBox={`0 0 ${W} ${H}`} style={{ position: 'absolute', left: 0, top: 0, background: '#fff' }}>
      <defs>
        <marker id="arrowHead" markerUnits="userSpaceOnUse" markerWidth={24} markerHeight={24} refX={17} refY={9} orient="auto">
          <path d="M2,2 L17,9 L2,16" fill="none" stroke="#000" strokeWidth={2.4} />
        </marker>
      </defs>
      <rect width={W} height={H} fill="#fff" />
      {panels.map(p => <Panel key={p.title} p={p} />)}
      {legendLabels.map((l, i) => (
        <g key={l}>
          <circle cx={legendX[i]} cy={legendY} r={20} fill={groupColors[i]} opacity={0.65} />
          <text x={legendX[i] + 75} y={legendY + 19} fontFamily={FONT} fontSize={56} fill="#000">{l}</text>
        </g>
      ))}
    </svg>
  );
}
